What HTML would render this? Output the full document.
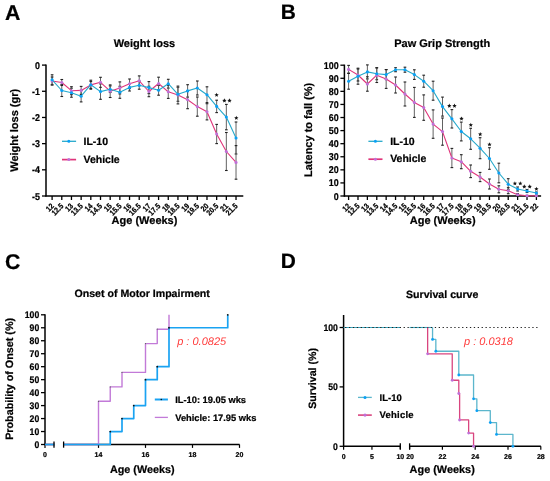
<!DOCTYPE html><html><head><meta charset="utf-8"><style>html,body{margin:0;padding:0;background:#fff;width:550px;height:481px;overflow:hidden}</style></head><body><svg width="550" height="481" viewBox="0 0 550 481" text-rendering="geometricPrecision" style="display:block;filter:blur(0.4px);font-family:'Liberation Sans', sans-serif">
<rect width="550" height="481" fill="#fff"/>
<text x="5.00" y="19.90" font-size="21.3" font-weight="bold" font-style="normal" text-anchor="start" fill="#000" stroke="#000" stroke-width="0.22">A</text>
<text x="280.80" y="18.80" font-size="20.9" font-weight="bold" font-style="normal" text-anchor="start" fill="#000" stroke="#000" stroke-width="0.22">B</text>
<text x="5.00" y="268.80" font-size="21.3" font-weight="bold" font-style="normal" text-anchor="start" fill="#000" stroke="#000" stroke-width="0.22">C</text>
<text x="280.80" y="267.60" font-size="20.9" font-weight="bold" font-style="normal" text-anchor="start" fill="#000" stroke="#000" stroke-width="0.22">D</text>
<text x="144.40" y="46.80" font-size="11" font-weight="bold" font-style="normal" text-anchor="middle" fill="#000" stroke="#000" stroke-width="0.22">Weight loss</text>
<line x1="46.00" y1="64.50" x2="46.00" y2="196.60" stroke="#000" stroke-width="1.5"/>
<line x1="45.40" y1="196.00" x2="243.30" y2="196.00" stroke="#000" stroke-width="1.5"/>
<line x1="42.00" y1="65.10" x2="46.00" y2="65.10" stroke="#000" stroke-width="1.3"/>
<text transform="translate(39.90 68.60) scale(0.9 1)" font-size="9.9" font-weight="bold" font-style="normal" text-anchor="end" fill="#000" stroke="#000" stroke-width="0.22">0</text>
<line x1="42.00" y1="91.28" x2="46.00" y2="91.28" stroke="#000" stroke-width="1.3"/>
<text transform="translate(39.90 94.78) scale(0.9 1)" font-size="9.9" font-weight="bold" font-style="normal" text-anchor="end" fill="#000" stroke="#000" stroke-width="0.22">-1</text>
<line x1="42.00" y1="117.46" x2="46.00" y2="117.46" stroke="#000" stroke-width="1.3"/>
<text transform="translate(39.90 120.96) scale(0.9 1)" font-size="9.9" font-weight="bold" font-style="normal" text-anchor="end" fill="#000" stroke="#000" stroke-width="0.22">-2</text>
<line x1="42.00" y1="143.64" x2="46.00" y2="143.64" stroke="#000" stroke-width="1.3"/>
<text transform="translate(39.90 147.14) scale(0.9 1)" font-size="9.9" font-weight="bold" font-style="normal" text-anchor="end" fill="#000" stroke="#000" stroke-width="0.22">-3</text>
<line x1="42.00" y1="169.82" x2="46.00" y2="169.82" stroke="#000" stroke-width="1.3"/>
<text transform="translate(39.90 173.32) scale(0.9 1)" font-size="9.9" font-weight="bold" font-style="normal" text-anchor="end" fill="#000" stroke="#000" stroke-width="0.22">-4</text>
<line x1="42.00" y1="196.00" x2="46.00" y2="196.00" stroke="#000" stroke-width="1.3"/>
<text transform="translate(39.90 199.50) scale(0.9 1)" font-size="9.9" font-weight="bold" font-style="normal" text-anchor="end" fill="#000" stroke="#000" stroke-width="0.22">-5</text>
<line x1="52.10" y1="196.00" x2="52.10" y2="200.00" stroke="#000" stroke-width="1.3"/>
<text transform="translate(54.40 206.60) rotate(-45) scale(0.88 1)" font-size="7.8" font-weight="bold" font-style="normal" text-anchor="end" fill="#000" stroke="#000" stroke-width="0.22">12</text>
<line x1="61.78" y1="196.00" x2="61.78" y2="200.00" stroke="#000" stroke-width="1.3"/>
<text transform="translate(64.08 206.60) rotate(-45) scale(0.88 1)" font-size="7.8" font-weight="bold" font-style="normal" text-anchor="end" fill="#000" stroke="#000" stroke-width="0.22">12.5</text>
<line x1="71.46" y1="196.00" x2="71.46" y2="200.00" stroke="#000" stroke-width="1.3"/>
<text transform="translate(73.76 206.60) rotate(-45) scale(0.88 1)" font-size="7.8" font-weight="bold" font-style="normal" text-anchor="end" fill="#000" stroke="#000" stroke-width="0.22">13</text>
<line x1="81.14" y1="196.00" x2="81.14" y2="200.00" stroke="#000" stroke-width="1.3"/>
<text transform="translate(83.44 206.60) rotate(-45) scale(0.88 1)" font-size="7.8" font-weight="bold" font-style="normal" text-anchor="end" fill="#000" stroke="#000" stroke-width="0.22">13.5</text>
<line x1="90.82" y1="196.00" x2="90.82" y2="200.00" stroke="#000" stroke-width="1.3"/>
<text transform="translate(93.12 206.60) rotate(-45) scale(0.88 1)" font-size="7.8" font-weight="bold" font-style="normal" text-anchor="end" fill="#000" stroke="#000" stroke-width="0.22">14</text>
<line x1="100.50" y1="196.00" x2="100.50" y2="200.00" stroke="#000" stroke-width="1.3"/>
<text transform="translate(102.80 206.60) rotate(-45) scale(0.88 1)" font-size="7.8" font-weight="bold" font-style="normal" text-anchor="end" fill="#000" stroke="#000" stroke-width="0.22">14.5</text>
<line x1="110.18" y1="196.00" x2="110.18" y2="200.00" stroke="#000" stroke-width="1.3"/>
<text transform="translate(112.48 206.60) rotate(-45) scale(0.88 1)" font-size="7.8" font-weight="bold" font-style="normal" text-anchor="end" fill="#000" stroke="#000" stroke-width="0.22">15</text>
<line x1="119.86" y1="196.00" x2="119.86" y2="200.00" stroke="#000" stroke-width="1.3"/>
<text transform="translate(122.16 206.60) rotate(-45) scale(0.88 1)" font-size="7.8" font-weight="bold" font-style="normal" text-anchor="end" fill="#000" stroke="#000" stroke-width="0.22">15.5</text>
<line x1="129.54" y1="196.00" x2="129.54" y2="200.00" stroke="#000" stroke-width="1.3"/>
<text transform="translate(131.84 206.60) rotate(-45) scale(0.88 1)" font-size="7.8" font-weight="bold" font-style="normal" text-anchor="end" fill="#000" stroke="#000" stroke-width="0.22">16</text>
<line x1="139.22" y1="196.00" x2="139.22" y2="200.00" stroke="#000" stroke-width="1.3"/>
<text transform="translate(141.52 206.60) rotate(-45) scale(0.88 1)" font-size="7.8" font-weight="bold" font-style="normal" text-anchor="end" fill="#000" stroke="#000" stroke-width="0.22">16.5</text>
<line x1="148.90" y1="196.00" x2="148.90" y2="200.00" stroke="#000" stroke-width="1.3"/>
<text transform="translate(151.20 206.60) rotate(-45) scale(0.88 1)" font-size="7.8" font-weight="bold" font-style="normal" text-anchor="end" fill="#000" stroke="#000" stroke-width="0.22">17</text>
<line x1="158.58" y1="196.00" x2="158.58" y2="200.00" stroke="#000" stroke-width="1.3"/>
<text transform="translate(160.88 206.60) rotate(-45) scale(0.88 1)" font-size="7.8" font-weight="bold" font-style="normal" text-anchor="end" fill="#000" stroke="#000" stroke-width="0.22">17.5</text>
<line x1="168.26" y1="196.00" x2="168.26" y2="200.00" stroke="#000" stroke-width="1.3"/>
<text transform="translate(170.56 206.60) rotate(-45) scale(0.88 1)" font-size="7.8" font-weight="bold" font-style="normal" text-anchor="end" fill="#000" stroke="#000" stroke-width="0.22">18</text>
<line x1="177.94" y1="196.00" x2="177.94" y2="200.00" stroke="#000" stroke-width="1.3"/>
<text transform="translate(180.24 206.60) rotate(-45) scale(0.88 1)" font-size="7.8" font-weight="bold" font-style="normal" text-anchor="end" fill="#000" stroke="#000" stroke-width="0.22">18.5</text>
<line x1="187.62" y1="196.00" x2="187.62" y2="200.00" stroke="#000" stroke-width="1.3"/>
<text transform="translate(189.92 206.60) rotate(-45) scale(0.88 1)" font-size="7.8" font-weight="bold" font-style="normal" text-anchor="end" fill="#000" stroke="#000" stroke-width="0.22">19</text>
<line x1="197.30" y1="196.00" x2="197.30" y2="200.00" stroke="#000" stroke-width="1.3"/>
<text transform="translate(199.60 206.60) rotate(-45) scale(0.88 1)" font-size="7.8" font-weight="bold" font-style="normal" text-anchor="end" fill="#000" stroke="#000" stroke-width="0.22">19.5</text>
<line x1="206.98" y1="196.00" x2="206.98" y2="200.00" stroke="#000" stroke-width="1.3"/>
<text transform="translate(209.28 206.60) rotate(-45) scale(0.88 1)" font-size="7.8" font-weight="bold" font-style="normal" text-anchor="end" fill="#000" stroke="#000" stroke-width="0.22">20</text>
<line x1="216.66" y1="196.00" x2="216.66" y2="200.00" stroke="#000" stroke-width="1.3"/>
<text transform="translate(218.96 206.60) rotate(-45) scale(0.88 1)" font-size="7.8" font-weight="bold" font-style="normal" text-anchor="end" fill="#000" stroke="#000" stroke-width="0.22">20.5</text>
<line x1="226.34" y1="196.00" x2="226.34" y2="200.00" stroke="#000" stroke-width="1.3"/>
<text transform="translate(228.64 206.60) rotate(-45) scale(0.88 1)" font-size="7.8" font-weight="bold" font-style="normal" text-anchor="end" fill="#000" stroke="#000" stroke-width="0.22">21</text>
<line x1="236.02" y1="196.00" x2="236.02" y2="200.00" stroke="#000" stroke-width="1.3"/>
<text transform="translate(238.32 206.60) rotate(-45) scale(0.88 1)" font-size="7.8" font-weight="bold" font-style="normal" text-anchor="end" fill="#000" stroke="#000" stroke-width="0.22">21.5</text>
<text x="144.50" y="224.00" font-size="11" font-weight="bold" font-style="normal" text-anchor="middle" fill="#000" stroke="#000" stroke-width="0.22">Age (Weeks)</text>
<text x="18.30" y="130.30" font-size="11" font-weight="bold" font-style="normal" text-anchor="middle" fill="#000" transform="rotate(-90 18.3 130.3)" stroke="#000" stroke-width="0.22">Weight loss (gr)</text>
<line x1="52.10" y1="74.80" x2="52.10" y2="84.80" stroke="#5a5a5a" stroke-width="0.95"/>
<line x1="50.75" y1="74.80" x2="53.45" y2="74.80" stroke="#222" stroke-width="1.1"/>
<line x1="50.75" y1="84.80" x2="53.45" y2="84.80" stroke="#222" stroke-width="1.1"/>
<line x1="52.10" y1="77.00" x2="52.10" y2="85.00" stroke="#5a5a5a" stroke-width="0.95"/>
<line x1="50.75" y1="77.00" x2="53.45" y2="77.00" stroke="#222" stroke-width="1.1"/>
<line x1="50.75" y1="85.00" x2="53.45" y2="85.00" stroke="#222" stroke-width="1.1"/>
<line x1="61.78" y1="84.50" x2="61.78" y2="96.50" stroke="#5a5a5a" stroke-width="0.95"/>
<line x1="60.43" y1="84.50" x2="63.13" y2="84.50" stroke="#222" stroke-width="1.1"/>
<line x1="60.43" y1="96.50" x2="63.13" y2="96.50" stroke="#222" stroke-width="1.1"/>
<line x1="61.78" y1="79.50" x2="61.78" y2="85.50" stroke="#5a5a5a" stroke-width="0.95"/>
<line x1="60.43" y1="79.50" x2="63.13" y2="79.50" stroke="#222" stroke-width="1.1"/>
<line x1="60.43" y1="85.50" x2="63.13" y2="85.50" stroke="#222" stroke-width="1.1"/>
<line x1="71.46" y1="88.20" x2="71.46" y2="97.20" stroke="#5a5a5a" stroke-width="0.95"/>
<line x1="70.11" y1="88.20" x2="72.81" y2="88.20" stroke="#222" stroke-width="1.1"/>
<line x1="70.11" y1="97.20" x2="72.81" y2="97.20" stroke="#222" stroke-width="1.1"/>
<line x1="71.46" y1="86.70" x2="71.46" y2="94.70" stroke="#5a5a5a" stroke-width="0.95"/>
<line x1="70.11" y1="86.70" x2="72.81" y2="86.70" stroke="#222" stroke-width="1.1"/>
<line x1="70.11" y1="94.70" x2="72.81" y2="94.70" stroke="#222" stroke-width="1.1"/>
<line x1="81.14" y1="90.50" x2="81.14" y2="101.90" stroke="#5a5a5a" stroke-width="0.95"/>
<line x1="79.79" y1="90.50" x2="82.49" y2="90.50" stroke="#222" stroke-width="1.1"/>
<line x1="79.79" y1="101.90" x2="82.49" y2="101.90" stroke="#222" stroke-width="1.1"/>
<line x1="81.14" y1="86.40" x2="81.14" y2="94.40" stroke="#5a5a5a" stroke-width="0.95"/>
<line x1="79.79" y1="86.40" x2="82.49" y2="86.40" stroke="#222" stroke-width="1.1"/>
<line x1="79.79" y1="94.40" x2="82.49" y2="94.40" stroke="#222" stroke-width="1.1"/>
<line x1="90.82" y1="80.20" x2="90.82" y2="89.20" stroke="#5a5a5a" stroke-width="0.95"/>
<line x1="89.47" y1="80.20" x2="92.17" y2="80.20" stroke="#222" stroke-width="1.1"/>
<line x1="89.47" y1="89.20" x2="92.17" y2="89.20" stroke="#222" stroke-width="1.1"/>
<line x1="90.82" y1="81.40" x2="90.82" y2="88.40" stroke="#5a5a5a" stroke-width="0.95"/>
<line x1="89.47" y1="81.40" x2="92.17" y2="81.40" stroke="#222" stroke-width="1.1"/>
<line x1="89.47" y1="88.40" x2="92.17" y2="88.40" stroke="#222" stroke-width="1.1"/>
<line x1="100.50" y1="83.90" x2="100.50" y2="99.30" stroke="#5a5a5a" stroke-width="0.95"/>
<line x1="99.15" y1="83.90" x2="101.85" y2="83.90" stroke="#222" stroke-width="1.1"/>
<line x1="99.15" y1="99.30" x2="101.85" y2="99.30" stroke="#222" stroke-width="1.1"/>
<line x1="100.50" y1="77.30" x2="100.50" y2="87.30" stroke="#5a5a5a" stroke-width="0.95"/>
<line x1="99.15" y1="77.30" x2="101.85" y2="77.30" stroke="#222" stroke-width="1.1"/>
<line x1="99.15" y1="87.30" x2="101.85" y2="87.30" stroke="#222" stroke-width="1.1"/>
<line x1="110.18" y1="85.90" x2="110.18" y2="92.50" stroke="#5a5a5a" stroke-width="0.95"/>
<line x1="108.83" y1="85.90" x2="111.53" y2="85.90" stroke="#222" stroke-width="1.1"/>
<line x1="108.83" y1="92.50" x2="111.53" y2="92.50" stroke="#222" stroke-width="1.1"/>
<line x1="110.18" y1="84.90" x2="110.18" y2="97.50" stroke="#5a5a5a" stroke-width="0.95"/>
<line x1="108.83" y1="84.90" x2="111.53" y2="84.90" stroke="#222" stroke-width="1.1"/>
<line x1="108.83" y1="97.50" x2="111.53" y2="97.50" stroke="#222" stroke-width="1.1"/>
<line x1="119.86" y1="86.30" x2="119.86" y2="98.30" stroke="#5a5a5a" stroke-width="0.95"/>
<line x1="118.51" y1="86.30" x2="121.21" y2="86.30" stroke="#222" stroke-width="1.1"/>
<line x1="118.51" y1="98.30" x2="121.21" y2="98.30" stroke="#222" stroke-width="1.1"/>
<line x1="119.86" y1="81.90" x2="119.86" y2="93.90" stroke="#5a5a5a" stroke-width="0.95"/>
<line x1="118.51" y1="81.90" x2="121.21" y2="81.90" stroke="#222" stroke-width="1.1"/>
<line x1="118.51" y1="93.90" x2="121.21" y2="93.90" stroke="#222" stroke-width="1.1"/>
<line x1="129.54" y1="83.80" x2="129.54" y2="91.00" stroke="#5a5a5a" stroke-width="0.95"/>
<line x1="128.19" y1="83.80" x2="130.89" y2="83.80" stroke="#222" stroke-width="1.1"/>
<line x1="128.19" y1="91.00" x2="130.89" y2="91.00" stroke="#222" stroke-width="1.1"/>
<line x1="129.54" y1="79.00" x2="129.54" y2="88.60" stroke="#5a5a5a" stroke-width="0.95"/>
<line x1="128.19" y1="79.00" x2="130.89" y2="79.00" stroke="#222" stroke-width="1.1"/>
<line x1="128.19" y1="88.60" x2="130.89" y2="88.60" stroke="#222" stroke-width="1.1"/>
<line x1="139.22" y1="81.20" x2="139.22" y2="89.20" stroke="#5a5a5a" stroke-width="0.95"/>
<line x1="137.87" y1="81.20" x2="140.57" y2="81.20" stroke="#222" stroke-width="1.1"/>
<line x1="137.87" y1="89.20" x2="140.57" y2="89.20" stroke="#222" stroke-width="1.1"/>
<line x1="139.22" y1="75.90" x2="139.22" y2="85.70" stroke="#5a5a5a" stroke-width="0.95"/>
<line x1="137.87" y1="75.90" x2="140.57" y2="75.90" stroke="#222" stroke-width="1.1"/>
<line x1="137.87" y1="85.70" x2="140.57" y2="85.70" stroke="#222" stroke-width="1.1"/>
<line x1="148.90" y1="81.60" x2="148.90" y2="93.60" stroke="#5a5a5a" stroke-width="0.95"/>
<line x1="147.55" y1="81.60" x2="150.25" y2="81.60" stroke="#222" stroke-width="1.1"/>
<line x1="147.55" y1="93.60" x2="150.25" y2="93.60" stroke="#222" stroke-width="1.1"/>
<line x1="148.90" y1="86.30" x2="148.90" y2="96.70" stroke="#5a5a5a" stroke-width="0.95"/>
<line x1="147.55" y1="86.30" x2="150.25" y2="86.30" stroke="#222" stroke-width="1.1"/>
<line x1="147.55" y1="96.70" x2="150.25" y2="96.70" stroke="#222" stroke-width="1.1"/>
<line x1="158.58" y1="85.40" x2="158.58" y2="95.20" stroke="#5a5a5a" stroke-width="0.95"/>
<line x1="157.23" y1="85.40" x2="159.93" y2="85.40" stroke="#222" stroke-width="1.1"/>
<line x1="157.23" y1="95.20" x2="159.93" y2="95.20" stroke="#222" stroke-width="1.1"/>
<line x1="158.58" y1="77.20" x2="158.58" y2="89.80" stroke="#5a5a5a" stroke-width="0.95"/>
<line x1="157.23" y1="77.20" x2="159.93" y2="77.20" stroke="#222" stroke-width="1.1"/>
<line x1="157.23" y1="89.80" x2="159.93" y2="89.80" stroke="#222" stroke-width="1.1"/>
<line x1="168.26" y1="79.30" x2="168.26" y2="88.10" stroke="#5a5a5a" stroke-width="0.95"/>
<line x1="166.91" y1="79.30" x2="169.61" y2="79.30" stroke="#222" stroke-width="1.1"/>
<line x1="166.91" y1="88.10" x2="169.61" y2="88.10" stroke="#222" stroke-width="1.1"/>
<line x1="168.26" y1="85.20" x2="168.26" y2="98.40" stroke="#5a5a5a" stroke-width="0.95"/>
<line x1="166.91" y1="85.20" x2="169.61" y2="85.20" stroke="#222" stroke-width="1.1"/>
<line x1="166.91" y1="98.40" x2="169.61" y2="98.40" stroke="#222" stroke-width="1.1"/>
<line x1="177.94" y1="87.30" x2="177.94" y2="101.30" stroke="#5a5a5a" stroke-width="0.95"/>
<line x1="176.59" y1="87.30" x2="179.29" y2="87.30" stroke="#222" stroke-width="1.1"/>
<line x1="176.59" y1="101.30" x2="179.29" y2="101.30" stroke="#222" stroke-width="1.1"/>
<line x1="177.94" y1="86.10" x2="177.94" y2="103.90" stroke="#5a5a5a" stroke-width="0.95"/>
<line x1="176.59" y1="86.10" x2="179.29" y2="86.10" stroke="#222" stroke-width="1.1"/>
<line x1="176.59" y1="103.90" x2="179.29" y2="103.90" stroke="#222" stroke-width="1.1"/>
<line x1="187.62" y1="84.70" x2="187.62" y2="97.10" stroke="#5a5a5a" stroke-width="0.95"/>
<line x1="186.27" y1="84.70" x2="188.97" y2="84.70" stroke="#222" stroke-width="1.1"/>
<line x1="186.27" y1="97.10" x2="188.97" y2="97.10" stroke="#222" stroke-width="1.1"/>
<line x1="187.62" y1="90.90" x2="187.62" y2="108.70" stroke="#5a5a5a" stroke-width="0.95"/>
<line x1="186.27" y1="90.90" x2="188.97" y2="90.90" stroke="#222" stroke-width="1.1"/>
<line x1="186.27" y1="108.70" x2="188.97" y2="108.70" stroke="#222" stroke-width="1.1"/>
<line x1="197.30" y1="81.00" x2="197.30" y2="95.00" stroke="#5a5a5a" stroke-width="0.95"/>
<line x1="195.95" y1="81.00" x2="198.65" y2="81.00" stroke="#222" stroke-width="1.1"/>
<line x1="195.95" y1="95.00" x2="198.65" y2="95.00" stroke="#222" stroke-width="1.1"/>
<line x1="197.30" y1="97.00" x2="197.30" y2="116.20" stroke="#5a5a5a" stroke-width="0.95"/>
<line x1="195.95" y1="97.00" x2="198.65" y2="97.00" stroke="#222" stroke-width="1.1"/>
<line x1="195.95" y1="116.20" x2="198.65" y2="116.20" stroke="#222" stroke-width="1.1"/>
<line x1="206.98" y1="86.80" x2="206.98" y2="102.60" stroke="#5a5a5a" stroke-width="0.95"/>
<line x1="205.63" y1="86.80" x2="208.33" y2="86.80" stroke="#222" stroke-width="1.1"/>
<line x1="205.63" y1="102.60" x2="208.33" y2="102.60" stroke="#222" stroke-width="1.1"/>
<line x1="206.98" y1="103.70" x2="206.98" y2="119.90" stroke="#5a5a5a" stroke-width="0.95"/>
<line x1="205.63" y1="103.70" x2="208.33" y2="103.70" stroke="#222" stroke-width="1.1"/>
<line x1="205.63" y1="119.90" x2="208.33" y2="119.90" stroke="#222" stroke-width="1.1"/>
<line x1="216.66" y1="100.20" x2="216.66" y2="112.60" stroke="#5a5a5a" stroke-width="0.95"/>
<line x1="215.31" y1="100.20" x2="218.01" y2="100.20" stroke="#222" stroke-width="1.1"/>
<line x1="215.31" y1="112.60" x2="218.01" y2="112.60" stroke="#222" stroke-width="1.1"/>
<line x1="216.66" y1="124.40" x2="216.66" y2="143.60" stroke="#5a5a5a" stroke-width="0.95"/>
<line x1="215.31" y1="124.40" x2="218.01" y2="124.40" stroke="#222" stroke-width="1.1"/>
<line x1="215.31" y1="143.60" x2="218.01" y2="143.60" stroke="#222" stroke-width="1.1"/>
<line x1="226.34" y1="104.40" x2="226.34" y2="129.80" stroke="#5a5a5a" stroke-width="0.95"/>
<line x1="224.99" y1="104.40" x2="227.69" y2="104.40" stroke="#222" stroke-width="1.1"/>
<line x1="224.99" y1="129.80" x2="227.69" y2="129.80" stroke="#222" stroke-width="1.1"/>
<line x1="226.34" y1="132.50" x2="226.34" y2="170.50" stroke="#5a5a5a" stroke-width="0.95"/>
<line x1="224.99" y1="132.50" x2="227.69" y2="132.50" stroke="#222" stroke-width="1.1"/>
<line x1="224.99" y1="170.50" x2="227.69" y2="170.50" stroke="#222" stroke-width="1.1"/>
<line x1="236.02" y1="122.00" x2="236.02" y2="154.00" stroke="#5a5a5a" stroke-width="0.95"/>
<line x1="234.67" y1="122.00" x2="237.37" y2="122.00" stroke="#222" stroke-width="1.1"/>
<line x1="234.67" y1="154.00" x2="237.37" y2="154.00" stroke="#222" stroke-width="1.1"/>
<line x1="236.02" y1="145.60" x2="236.02" y2="179.20" stroke="#5a5a5a" stroke-width="0.95"/>
<line x1="234.67" y1="145.60" x2="237.37" y2="145.60" stroke="#222" stroke-width="1.1"/>
<line x1="234.67" y1="179.20" x2="237.37" y2="179.20" stroke="#222" stroke-width="1.1"/>
<polyline points="52.10,81.00 61.78,82.50 71.46,90.70 81.14,90.40 90.82,84.90 100.50,82.30 110.18,91.20 119.86,87.90 129.54,83.80 139.22,80.80 148.90,91.50 158.58,83.50 168.26,91.80 177.94,95.00 187.62,99.80 197.30,106.60 206.98,111.80 216.66,134.00 226.34,151.50 236.02,162.40" fill="none" stroke="#e0357a" stroke-width="1.1" stroke-linejoin="round"/>
<circle cx="52.10" cy="81.00" r="1.55" fill="#c070d8"/>
<circle cx="61.78" cy="82.50" r="1.55" fill="#c070d8"/>
<circle cx="71.46" cy="90.70" r="1.55" fill="#c070d8"/>
<circle cx="81.14" cy="90.40" r="1.55" fill="#c070d8"/>
<circle cx="90.82" cy="84.90" r="1.55" fill="#c070d8"/>
<circle cx="100.50" cy="82.30" r="1.55" fill="#c070d8"/>
<circle cx="110.18" cy="91.20" r="1.55" fill="#c070d8"/>
<circle cx="119.86" cy="87.90" r="1.55" fill="#c070d8"/>
<circle cx="129.54" cy="83.80" r="1.55" fill="#c070d8"/>
<circle cx="139.22" cy="80.80" r="1.55" fill="#c070d8"/>
<circle cx="148.90" cy="91.50" r="1.55" fill="#c070d8"/>
<circle cx="158.58" cy="83.50" r="1.55" fill="#c070d8"/>
<circle cx="168.26" cy="91.80" r="1.55" fill="#c070d8"/>
<circle cx="177.94" cy="95.00" r="1.55" fill="#c070d8"/>
<circle cx="187.62" cy="99.80" r="1.55" fill="#c070d8"/>
<circle cx="197.30" cy="106.60" r="1.55" fill="#c070d8"/>
<circle cx="206.98" cy="111.80" r="1.55" fill="#c070d8"/>
<circle cx="216.66" cy="134.00" r="1.55" fill="#c070d8"/>
<circle cx="226.34" cy="151.50" r="1.55" fill="#c070d8"/>
<circle cx="236.02" cy="162.40" r="1.55" fill="#c070d8"/>
<polyline points="52.10,79.80 61.78,90.50 71.46,92.70 81.14,96.20 90.82,84.70 100.50,91.60 110.18,89.20 119.86,92.30 129.54,87.40 139.22,85.20 148.90,87.60 158.58,90.30 168.26,83.70 177.94,94.30 187.62,90.90 197.30,88.00 206.98,94.70 216.66,106.40 226.34,117.10 236.02,138.00" fill="none" stroke="#26a9cb" stroke-width="1.1" stroke-linejoin="round"/>
<circle cx="52.10" cy="79.80" r="1.55" fill="#0aa0f5"/>
<circle cx="61.78" cy="90.50" r="1.55" fill="#0aa0f5"/>
<circle cx="71.46" cy="92.70" r="1.55" fill="#0aa0f5"/>
<circle cx="81.14" cy="96.20" r="1.55" fill="#0aa0f5"/>
<circle cx="90.82" cy="84.70" r="1.55" fill="#0aa0f5"/>
<circle cx="100.50" cy="91.60" r="1.55" fill="#0aa0f5"/>
<circle cx="110.18" cy="89.20" r="1.55" fill="#0aa0f5"/>
<circle cx="119.86" cy="92.30" r="1.55" fill="#0aa0f5"/>
<circle cx="129.54" cy="87.40" r="1.55" fill="#0aa0f5"/>
<circle cx="139.22" cy="85.20" r="1.55" fill="#0aa0f5"/>
<circle cx="148.90" cy="87.60" r="1.55" fill="#0aa0f5"/>
<circle cx="158.58" cy="90.30" r="1.55" fill="#0aa0f5"/>
<circle cx="168.26" cy="83.70" r="1.55" fill="#0aa0f5"/>
<circle cx="177.94" cy="94.30" r="1.55" fill="#0aa0f5"/>
<circle cx="187.62" cy="90.90" r="1.55" fill="#0aa0f5"/>
<circle cx="197.30" cy="88.00" r="1.55" fill="#0aa0f5"/>
<circle cx="206.98" cy="94.70" r="1.55" fill="#0aa0f5"/>
<circle cx="216.66" cy="106.40" r="1.55" fill="#0aa0f5"/>
<circle cx="226.34" cy="117.10" r="1.55" fill="#0aa0f5"/>
<circle cx="236.02" cy="138.00" r="1.55" fill="#0aa0f5"/>
<polygon points="216.60,92.70 217.21,94.16 218.79,94.29 217.58,95.32 217.95,96.86 216.60,96.03 215.25,96.86 215.62,95.32 214.41,94.29 215.99,94.16" fill="#111"/>
<polygon points="224.40,98.30 225.01,99.76 226.59,99.89 225.38,100.92 225.75,102.46 224.40,101.63 223.05,102.46 223.42,100.92 222.21,99.89 223.79,99.76" fill="#111"/>
<polygon points="229.50,98.30 230.11,99.76 231.69,99.89 230.48,100.92 230.85,102.46 229.50,101.63 228.15,102.46 228.52,100.92 227.31,99.89 228.89,99.76" fill="#111"/>
<polygon points="236.30,115.70 236.91,117.16 238.49,117.29 237.28,118.32 237.65,119.86 236.30,119.03 234.95,119.86 235.32,118.32 234.11,117.29 235.69,117.16" fill="#111"/>
<line x1="62.00" y1="141.30" x2="76.10" y2="141.30" stroke="#26a9cb" stroke-width="1.3"/>
<circle cx="68.80" cy="141.30" r="1.5" fill="#0aa0f5"/>
<line x1="62.00" y1="159.60" x2="76.10" y2="159.60" stroke="#e0357a" stroke-width="1.7"/>
<circle cx="68.80" cy="159.60" r="1.5" fill="#c070d8"/>
<text x="83.50" y="144.90" font-size="10.5" font-weight="bold" font-style="normal" text-anchor="start" fill="#000" stroke="#000" stroke-width="0.22">IL-10</text>
<text x="83.50" y="163.10" font-size="10.5" font-weight="bold" font-style="normal" text-anchor="start" fill="#000" stroke="#000" stroke-width="0.22">Vehicle</text>
<text x="442.20" y="47.00" font-size="11" font-weight="bold" font-style="normal" text-anchor="middle" fill="#000" stroke="#000" stroke-width="0.22">Paw Grip Strength</text>
<line x1="344.40" y1="64.60" x2="344.40" y2="196.60" stroke="#000" stroke-width="1.5"/>
<line x1="343.80" y1="196.00" x2="541.10" y2="196.00" stroke="#000" stroke-width="1.5"/>
<line x1="340.40" y1="196.00" x2="344.40" y2="196.00" stroke="#000" stroke-width="1.3"/>
<text transform="translate(338.60 199.50) scale(0.9 1)" font-size="9.9" font-weight="bold" font-style="normal" text-anchor="end" fill="#000" stroke="#000" stroke-width="0.22">0</text>
<line x1="340.40" y1="182.92" x2="344.40" y2="182.92" stroke="#000" stroke-width="1.3"/>
<text transform="translate(338.60 186.42) scale(0.9 1)" font-size="9.9" font-weight="bold" font-style="normal" text-anchor="end" fill="#000" stroke="#000" stroke-width="0.22">10</text>
<line x1="340.40" y1="169.84" x2="344.40" y2="169.84" stroke="#000" stroke-width="1.3"/>
<text transform="translate(338.60 173.34) scale(0.9 1)" font-size="9.9" font-weight="bold" font-style="normal" text-anchor="end" fill="#000" stroke="#000" stroke-width="0.22">20</text>
<line x1="340.40" y1="156.76" x2="344.40" y2="156.76" stroke="#000" stroke-width="1.3"/>
<text transform="translate(338.60 160.26) scale(0.9 1)" font-size="9.9" font-weight="bold" font-style="normal" text-anchor="end" fill="#000" stroke="#000" stroke-width="0.22">30</text>
<line x1="340.40" y1="143.68" x2="344.40" y2="143.68" stroke="#000" stroke-width="1.3"/>
<text transform="translate(338.60 147.18) scale(0.9 1)" font-size="9.9" font-weight="bold" font-style="normal" text-anchor="end" fill="#000" stroke="#000" stroke-width="0.22">40</text>
<line x1="340.40" y1="130.60" x2="344.40" y2="130.60" stroke="#000" stroke-width="1.3"/>
<text transform="translate(338.60 134.10) scale(0.9 1)" font-size="9.9" font-weight="bold" font-style="normal" text-anchor="end" fill="#000" stroke="#000" stroke-width="0.22">50</text>
<line x1="340.40" y1="117.52" x2="344.40" y2="117.52" stroke="#000" stroke-width="1.3"/>
<text transform="translate(338.60 121.02) scale(0.9 1)" font-size="9.9" font-weight="bold" font-style="normal" text-anchor="end" fill="#000" stroke="#000" stroke-width="0.22">60</text>
<line x1="340.40" y1="104.44" x2="344.40" y2="104.44" stroke="#000" stroke-width="1.3"/>
<text transform="translate(338.60 107.94) scale(0.9 1)" font-size="9.9" font-weight="bold" font-style="normal" text-anchor="end" fill="#000" stroke="#000" stroke-width="0.22">70</text>
<line x1="340.40" y1="91.36" x2="344.40" y2="91.36" stroke="#000" stroke-width="1.3"/>
<text transform="translate(338.60 94.86) scale(0.9 1)" font-size="9.9" font-weight="bold" font-style="normal" text-anchor="end" fill="#000" stroke="#000" stroke-width="0.22">80</text>
<line x1="340.40" y1="78.28" x2="344.40" y2="78.28" stroke="#000" stroke-width="1.3"/>
<text transform="translate(338.60 81.78) scale(0.9 1)" font-size="9.9" font-weight="bold" font-style="normal" text-anchor="end" fill="#000" stroke="#000" stroke-width="0.22">90</text>
<line x1="340.40" y1="65.20" x2="344.40" y2="65.20" stroke="#000" stroke-width="1.3"/>
<text transform="translate(338.60 68.70) scale(0.9 1)" font-size="9.9" font-weight="bold" font-style="normal" text-anchor="end" fill="#000" stroke="#000" stroke-width="0.22">100</text>
<line x1="348.60" y1="196.00" x2="348.60" y2="200.00" stroke="#000" stroke-width="1.3"/>
<text transform="translate(350.90 206.60) rotate(-45) scale(0.88 1)" font-size="7.8" font-weight="bold" font-style="normal" text-anchor="end" fill="#000" stroke="#000" stroke-width="0.22">12</text>
<line x1="357.99" y1="196.00" x2="357.99" y2="200.00" stroke="#000" stroke-width="1.3"/>
<text transform="translate(360.29 206.60) rotate(-45) scale(0.88 1)" font-size="7.8" font-weight="bold" font-style="normal" text-anchor="end" fill="#000" stroke="#000" stroke-width="0.22">12.5</text>
<line x1="367.38" y1="196.00" x2="367.38" y2="200.00" stroke="#000" stroke-width="1.3"/>
<text transform="translate(369.68 206.60) rotate(-45) scale(0.88 1)" font-size="7.8" font-weight="bold" font-style="normal" text-anchor="end" fill="#000" stroke="#000" stroke-width="0.22">13</text>
<line x1="376.77" y1="196.00" x2="376.77" y2="200.00" stroke="#000" stroke-width="1.3"/>
<text transform="translate(379.07 206.60) rotate(-45) scale(0.88 1)" font-size="7.8" font-weight="bold" font-style="normal" text-anchor="end" fill="#000" stroke="#000" stroke-width="0.22">13.5</text>
<line x1="386.16" y1="196.00" x2="386.16" y2="200.00" stroke="#000" stroke-width="1.3"/>
<text transform="translate(388.46 206.60) rotate(-45) scale(0.88 1)" font-size="7.8" font-weight="bold" font-style="normal" text-anchor="end" fill="#000" stroke="#000" stroke-width="0.22">14</text>
<line x1="395.55" y1="196.00" x2="395.55" y2="200.00" stroke="#000" stroke-width="1.3"/>
<text transform="translate(397.85 206.60) rotate(-45) scale(0.88 1)" font-size="7.8" font-weight="bold" font-style="normal" text-anchor="end" fill="#000" stroke="#000" stroke-width="0.22">14.5</text>
<line x1="404.94" y1="196.00" x2="404.94" y2="200.00" stroke="#000" stroke-width="1.3"/>
<text transform="translate(407.24 206.60) rotate(-45) scale(0.88 1)" font-size="7.8" font-weight="bold" font-style="normal" text-anchor="end" fill="#000" stroke="#000" stroke-width="0.22">15</text>
<line x1="414.33" y1="196.00" x2="414.33" y2="200.00" stroke="#000" stroke-width="1.3"/>
<text transform="translate(416.63 206.60) rotate(-45) scale(0.88 1)" font-size="7.8" font-weight="bold" font-style="normal" text-anchor="end" fill="#000" stroke="#000" stroke-width="0.22">15.5</text>
<line x1="423.72" y1="196.00" x2="423.72" y2="200.00" stroke="#000" stroke-width="1.3"/>
<text transform="translate(426.02 206.60) rotate(-45) scale(0.88 1)" font-size="7.8" font-weight="bold" font-style="normal" text-anchor="end" fill="#000" stroke="#000" stroke-width="0.22">16</text>
<line x1="433.11" y1="196.00" x2="433.11" y2="200.00" stroke="#000" stroke-width="1.3"/>
<text transform="translate(435.41 206.60) rotate(-45) scale(0.88 1)" font-size="7.8" font-weight="bold" font-style="normal" text-anchor="end" fill="#000" stroke="#000" stroke-width="0.22">16.5</text>
<line x1="442.50" y1="196.00" x2="442.50" y2="200.00" stroke="#000" stroke-width="1.3"/>
<text transform="translate(444.80 206.60) rotate(-45) scale(0.88 1)" font-size="7.8" font-weight="bold" font-style="normal" text-anchor="end" fill="#000" stroke="#000" stroke-width="0.22">17</text>
<line x1="451.89" y1="196.00" x2="451.89" y2="200.00" stroke="#000" stroke-width="1.3"/>
<text transform="translate(454.19 206.60) rotate(-45) scale(0.88 1)" font-size="7.8" font-weight="bold" font-style="normal" text-anchor="end" fill="#000" stroke="#000" stroke-width="0.22">17.5</text>
<line x1="461.28" y1="196.00" x2="461.28" y2="200.00" stroke="#000" stroke-width="1.3"/>
<text transform="translate(463.58 206.60) rotate(-45) scale(0.88 1)" font-size="7.8" font-weight="bold" font-style="normal" text-anchor="end" fill="#000" stroke="#000" stroke-width="0.22">18</text>
<line x1="470.67" y1="196.00" x2="470.67" y2="200.00" stroke="#000" stroke-width="1.3"/>
<text transform="translate(472.97 206.60) rotate(-45) scale(0.88 1)" font-size="7.8" font-weight="bold" font-style="normal" text-anchor="end" fill="#000" stroke="#000" stroke-width="0.22">18.5</text>
<line x1="480.06" y1="196.00" x2="480.06" y2="200.00" stroke="#000" stroke-width="1.3"/>
<text transform="translate(482.36 206.60) rotate(-45) scale(0.88 1)" font-size="7.8" font-weight="bold" font-style="normal" text-anchor="end" fill="#000" stroke="#000" stroke-width="0.22">19</text>
<line x1="489.45" y1="196.00" x2="489.45" y2="200.00" stroke="#000" stroke-width="1.3"/>
<text transform="translate(491.75 206.60) rotate(-45) scale(0.88 1)" font-size="7.8" font-weight="bold" font-style="normal" text-anchor="end" fill="#000" stroke="#000" stroke-width="0.22">19.5</text>
<line x1="498.84" y1="196.00" x2="498.84" y2="200.00" stroke="#000" stroke-width="1.3"/>
<text transform="translate(501.14 206.60) rotate(-45) scale(0.88 1)" font-size="7.8" font-weight="bold" font-style="normal" text-anchor="end" fill="#000" stroke="#000" stroke-width="0.22">20</text>
<line x1="508.23" y1="196.00" x2="508.23" y2="200.00" stroke="#000" stroke-width="1.3"/>
<text transform="translate(510.53 206.60) rotate(-45) scale(0.88 1)" font-size="7.8" font-weight="bold" font-style="normal" text-anchor="end" fill="#000" stroke="#000" stroke-width="0.22">20.5</text>
<line x1="517.62" y1="196.00" x2="517.62" y2="200.00" stroke="#000" stroke-width="1.3"/>
<text transform="translate(519.92 206.60) rotate(-45) scale(0.88 1)" font-size="7.8" font-weight="bold" font-style="normal" text-anchor="end" fill="#000" stroke="#000" stroke-width="0.22">21</text>
<line x1="527.01" y1="196.00" x2="527.01" y2="200.00" stroke="#000" stroke-width="1.3"/>
<text transform="translate(529.31 206.60) rotate(-45) scale(0.88 1)" font-size="7.8" font-weight="bold" font-style="normal" text-anchor="end" fill="#000" stroke="#000" stroke-width="0.22">21.5</text>
<line x1="536.40" y1="196.00" x2="536.40" y2="200.00" stroke="#000" stroke-width="1.3"/>
<text transform="translate(538.70 206.60) rotate(-45) scale(0.88 1)" font-size="7.8" font-weight="bold" font-style="normal" text-anchor="end" fill="#000" stroke="#000" stroke-width="0.22">22</text>
<text x="442.70" y="224.00" font-size="11" font-weight="bold" font-style="normal" text-anchor="middle" fill="#000" stroke="#000" stroke-width="0.22">Age (Weeks)</text>
<text x="312.50" y="129.90" font-size="11" font-weight="bold" font-style="normal" text-anchor="middle" fill="#000" transform="rotate(-90 312.5 129.9)" stroke="#000" stroke-width="0.22">Latency to fall (%)</text>
<line x1="348.60" y1="73.20" x2="348.60" y2="89.20" stroke="#5a5a5a" stroke-width="0.95"/>
<line x1="347.25" y1="73.20" x2="349.95" y2="73.20" stroke="#222" stroke-width="1.1"/>
<line x1="347.25" y1="89.20" x2="349.95" y2="89.20" stroke="#222" stroke-width="1.1"/>
<line x1="348.60" y1="65.40" x2="348.60" y2="73.40" stroke="#5a5a5a" stroke-width="0.95"/>
<line x1="347.25" y1="65.40" x2="349.95" y2="65.40" stroke="#222" stroke-width="1.1"/>
<line x1="347.25" y1="73.40" x2="349.95" y2="73.40" stroke="#222" stroke-width="1.1"/>
<line x1="357.99" y1="68.20" x2="357.99" y2="84.20" stroke="#5a5a5a" stroke-width="0.95"/>
<line x1="356.64" y1="68.20" x2="359.34" y2="68.20" stroke="#222" stroke-width="1.1"/>
<line x1="356.64" y1="84.20" x2="359.34" y2="84.20" stroke="#222" stroke-width="1.1"/>
<line x1="357.99" y1="69.00" x2="357.99" y2="81.00" stroke="#5a5a5a" stroke-width="0.95"/>
<line x1="356.64" y1="69.00" x2="359.34" y2="69.00" stroke="#222" stroke-width="1.1"/>
<line x1="356.64" y1="81.00" x2="359.34" y2="81.00" stroke="#222" stroke-width="1.1"/>
<line x1="367.38" y1="64.90" x2="367.38" y2="78.90" stroke="#5a5a5a" stroke-width="0.95"/>
<line x1="366.03" y1="64.90" x2="368.73" y2="64.90" stroke="#222" stroke-width="1.1"/>
<line x1="366.03" y1="78.90" x2="368.73" y2="78.90" stroke="#222" stroke-width="1.1"/>
<line x1="367.38" y1="76.80" x2="367.38" y2="91.20" stroke="#5a5a5a" stroke-width="0.95"/>
<line x1="366.03" y1="76.80" x2="368.73" y2="76.80" stroke="#222" stroke-width="1.1"/>
<line x1="366.03" y1="91.20" x2="368.73" y2="91.20" stroke="#222" stroke-width="1.1"/>
<line x1="376.77" y1="67.70" x2="376.77" y2="79.70" stroke="#5a5a5a" stroke-width="0.95"/>
<line x1="375.42" y1="67.70" x2="378.12" y2="67.70" stroke="#222" stroke-width="1.1"/>
<line x1="375.42" y1="79.70" x2="378.12" y2="79.70" stroke="#222" stroke-width="1.1"/>
<line x1="376.77" y1="67.90" x2="376.77" y2="82.50" stroke="#5a5a5a" stroke-width="0.95"/>
<line x1="375.42" y1="67.90" x2="378.12" y2="67.90" stroke="#222" stroke-width="1.1"/>
<line x1="375.42" y1="82.50" x2="378.12" y2="82.50" stroke="#222" stroke-width="1.1"/>
<line x1="386.16" y1="69.60" x2="386.16" y2="79.60" stroke="#5a5a5a" stroke-width="0.95"/>
<line x1="384.81" y1="69.60" x2="387.51" y2="69.60" stroke="#222" stroke-width="1.1"/>
<line x1="384.81" y1="79.60" x2="387.51" y2="79.60" stroke="#222" stroke-width="1.1"/>
<line x1="386.16" y1="69.60" x2="386.16" y2="88.40" stroke="#5a5a5a" stroke-width="0.95"/>
<line x1="384.81" y1="69.60" x2="387.51" y2="69.60" stroke="#222" stroke-width="1.1"/>
<line x1="384.81" y1="88.40" x2="387.51" y2="88.40" stroke="#222" stroke-width="1.1"/>
<line x1="395.55" y1="67.70" x2="395.55" y2="71.70" stroke="#5a5a5a" stroke-width="0.95"/>
<line x1="394.20" y1="67.70" x2="396.90" y2="67.70" stroke="#222" stroke-width="1.1"/>
<line x1="394.20" y1="71.70" x2="396.90" y2="71.70" stroke="#222" stroke-width="1.1"/>
<line x1="395.55" y1="77.00" x2="395.55" y2="93.00" stroke="#5a5a5a" stroke-width="0.95"/>
<line x1="394.20" y1="77.00" x2="396.90" y2="77.00" stroke="#222" stroke-width="1.1"/>
<line x1="394.20" y1="93.00" x2="396.90" y2="93.00" stroke="#222" stroke-width="1.1"/>
<line x1="404.94" y1="67.20" x2="404.94" y2="72.20" stroke="#5a5a5a" stroke-width="0.95"/>
<line x1="403.59" y1="67.20" x2="406.29" y2="67.20" stroke="#222" stroke-width="1.1"/>
<line x1="403.59" y1="72.20" x2="406.29" y2="72.20" stroke="#222" stroke-width="1.1"/>
<line x1="404.94" y1="82.00" x2="404.94" y2="106.00" stroke="#5a5a5a" stroke-width="0.95"/>
<line x1="403.59" y1="82.00" x2="406.29" y2="82.00" stroke="#222" stroke-width="1.1"/>
<line x1="403.59" y1="106.00" x2="406.29" y2="106.00" stroke="#222" stroke-width="1.1"/>
<line x1="414.33" y1="69.80" x2="414.33" y2="79.40" stroke="#5a5a5a" stroke-width="0.95"/>
<line x1="412.98" y1="69.80" x2="415.68" y2="69.80" stroke="#222" stroke-width="1.1"/>
<line x1="412.98" y1="79.40" x2="415.68" y2="79.40" stroke="#222" stroke-width="1.1"/>
<line x1="414.33" y1="87.40" x2="414.33" y2="117.40" stroke="#5a5a5a" stroke-width="0.95"/>
<line x1="412.98" y1="87.40" x2="415.68" y2="87.40" stroke="#222" stroke-width="1.1"/>
<line x1="412.98" y1="117.40" x2="415.68" y2="117.40" stroke="#222" stroke-width="1.1"/>
<line x1="423.72" y1="75.20" x2="423.72" y2="87.20" stroke="#5a5a5a" stroke-width="0.95"/>
<line x1="422.37" y1="75.20" x2="425.07" y2="75.20" stroke="#222" stroke-width="1.1"/>
<line x1="422.37" y1="87.20" x2="425.07" y2="87.20" stroke="#222" stroke-width="1.1"/>
<line x1="423.72" y1="94.90" x2="423.72" y2="120.30" stroke="#5a5a5a" stroke-width="0.95"/>
<line x1="422.37" y1="94.90" x2="425.07" y2="94.90" stroke="#222" stroke-width="1.1"/>
<line x1="422.37" y1="120.30" x2="425.07" y2="120.30" stroke="#222" stroke-width="1.1"/>
<line x1="433.11" y1="81.20" x2="433.11" y2="100.20" stroke="#5a5a5a" stroke-width="0.95"/>
<line x1="431.76" y1="81.20" x2="434.46" y2="81.20" stroke="#222" stroke-width="1.1"/>
<line x1="431.76" y1="100.20" x2="434.46" y2="100.20" stroke="#222" stroke-width="1.1"/>
<line x1="433.11" y1="109.90" x2="433.11" y2="138.30" stroke="#5a5a5a" stroke-width="0.95"/>
<line x1="431.76" y1="109.90" x2="434.46" y2="109.90" stroke="#222" stroke-width="1.1"/>
<line x1="431.76" y1="138.30" x2="434.46" y2="138.30" stroke="#222" stroke-width="1.1"/>
<line x1="442.50" y1="97.10" x2="442.50" y2="116.10" stroke="#5a5a5a" stroke-width="0.95"/>
<line x1="441.15" y1="97.10" x2="443.85" y2="97.10" stroke="#222" stroke-width="1.1"/>
<line x1="441.15" y1="116.10" x2="443.85" y2="116.10" stroke="#222" stroke-width="1.1"/>
<line x1="442.50" y1="118.00" x2="442.50" y2="145.20" stroke="#5a5a5a" stroke-width="0.95"/>
<line x1="441.15" y1="118.00" x2="443.85" y2="118.00" stroke="#222" stroke-width="1.1"/>
<line x1="441.15" y1="145.20" x2="443.85" y2="145.20" stroke="#222" stroke-width="1.1"/>
<line x1="451.89" y1="109.60" x2="451.89" y2="128.00" stroke="#5a5a5a" stroke-width="0.95"/>
<line x1="450.54" y1="109.60" x2="453.24" y2="109.60" stroke="#222" stroke-width="1.1"/>
<line x1="450.54" y1="128.00" x2="453.24" y2="128.00" stroke="#222" stroke-width="1.1"/>
<line x1="451.89" y1="148.40" x2="451.89" y2="167.60" stroke="#5a5a5a" stroke-width="0.95"/>
<line x1="450.54" y1="148.40" x2="453.24" y2="148.40" stroke="#222" stroke-width="1.1"/>
<line x1="450.54" y1="167.60" x2="453.24" y2="167.60" stroke="#222" stroke-width="1.1"/>
<line x1="461.28" y1="122.10" x2="461.28" y2="140.90" stroke="#5a5a5a" stroke-width="0.95"/>
<line x1="459.93" y1="122.10" x2="462.63" y2="122.10" stroke="#222" stroke-width="1.1"/>
<line x1="459.93" y1="140.90" x2="462.63" y2="140.90" stroke="#222" stroke-width="1.1"/>
<line x1="461.28" y1="154.70" x2="461.28" y2="168.70" stroke="#5a5a5a" stroke-width="0.95"/>
<line x1="459.93" y1="154.70" x2="462.63" y2="154.70" stroke="#222" stroke-width="1.1"/>
<line x1="459.93" y1="168.70" x2="462.63" y2="168.70" stroke="#222" stroke-width="1.1"/>
<line x1="470.67" y1="128.30" x2="470.67" y2="149.30" stroke="#5a5a5a" stroke-width="0.95"/>
<line x1="469.32" y1="128.30" x2="472.02" y2="128.30" stroke="#222" stroke-width="1.1"/>
<line x1="469.32" y1="149.30" x2="472.02" y2="149.30" stroke="#222" stroke-width="1.1"/>
<line x1="470.67" y1="165.00" x2="470.67" y2="177.60" stroke="#5a5a5a" stroke-width="0.95"/>
<line x1="469.32" y1="165.00" x2="472.02" y2="165.00" stroke="#222" stroke-width="1.1"/>
<line x1="469.32" y1="177.60" x2="472.02" y2="177.60" stroke="#222" stroke-width="1.1"/>
<line x1="480.06" y1="137.70" x2="480.06" y2="158.70" stroke="#5a5a5a" stroke-width="0.95"/>
<line x1="478.71" y1="137.70" x2="481.41" y2="137.70" stroke="#222" stroke-width="1.1"/>
<line x1="478.71" y1="158.70" x2="481.41" y2="158.70" stroke="#222" stroke-width="1.1"/>
<line x1="480.06" y1="172.40" x2="480.06" y2="181.60" stroke="#5a5a5a" stroke-width="0.95"/>
<line x1="478.71" y1="172.40" x2="481.41" y2="172.40" stroke="#222" stroke-width="1.1"/>
<line x1="478.71" y1="181.60" x2="481.41" y2="181.60" stroke="#222" stroke-width="1.1"/>
<line x1="489.45" y1="147.70" x2="489.45" y2="169.30" stroke="#5a5a5a" stroke-width="0.95"/>
<line x1="488.10" y1="147.70" x2="490.80" y2="147.70" stroke="#222" stroke-width="1.1"/>
<line x1="488.10" y1="169.30" x2="490.80" y2="169.30" stroke="#222" stroke-width="1.1"/>
<line x1="489.45" y1="179.00" x2="489.45" y2="189.00" stroke="#5a5a5a" stroke-width="0.95"/>
<line x1="488.10" y1="179.00" x2="490.80" y2="179.00" stroke="#222" stroke-width="1.1"/>
<line x1="488.10" y1="189.00" x2="490.80" y2="189.00" stroke="#222" stroke-width="1.1"/>
<line x1="498.84" y1="163.20" x2="498.84" y2="182.80" stroke="#5a5a5a" stroke-width="0.95"/>
<line x1="497.49" y1="163.20" x2="500.19" y2="163.20" stroke="#222" stroke-width="1.1"/>
<line x1="497.49" y1="182.80" x2="500.19" y2="182.80" stroke="#222" stroke-width="1.1"/>
<line x1="498.84" y1="185.80" x2="498.84" y2="192.80" stroke="#5a5a5a" stroke-width="0.95"/>
<line x1="497.49" y1="185.80" x2="500.19" y2="185.80" stroke="#222" stroke-width="1.1"/>
<line x1="497.49" y1="192.80" x2="500.19" y2="192.80" stroke="#222" stroke-width="1.1"/>
<line x1="508.23" y1="178.70" x2="508.23" y2="189.70" stroke="#5a5a5a" stroke-width="0.95"/>
<line x1="506.88" y1="178.70" x2="509.58" y2="178.70" stroke="#222" stroke-width="1.1"/>
<line x1="506.88" y1="189.70" x2="509.58" y2="189.70" stroke="#222" stroke-width="1.1"/>
<line x1="508.23" y1="187.70" x2="508.23" y2="193.70" stroke="#5a5a5a" stroke-width="0.95"/>
<line x1="506.88" y1="187.70" x2="509.58" y2="187.70" stroke="#222" stroke-width="1.1"/>
<line x1="506.88" y1="193.70" x2="509.58" y2="193.70" stroke="#222" stroke-width="1.1"/>
<line x1="517.62" y1="187.00" x2="517.62" y2="191.00" stroke="#5a5a5a" stroke-width="0.95"/>
<line x1="516.27" y1="187.00" x2="518.97" y2="187.00" stroke="#222" stroke-width="1.1"/>
<line x1="516.27" y1="191.00" x2="518.97" y2="191.00" stroke="#222" stroke-width="1.1"/>
<line x1="517.62" y1="193.70" x2="517.62" y2="195.70" stroke="#5a5a5a" stroke-width="0.95"/>
<line x1="516.27" y1="193.70" x2="518.97" y2="193.70" stroke="#222" stroke-width="1.1"/>
<line x1="516.27" y1="195.70" x2="518.97" y2="195.70" stroke="#222" stroke-width="1.1"/>
<line x1="527.01" y1="189.50" x2="527.01" y2="192.50" stroke="#5a5a5a" stroke-width="0.95"/>
<line x1="525.66" y1="189.50" x2="528.36" y2="189.50" stroke="#222" stroke-width="1.1"/>
<line x1="525.66" y1="192.50" x2="528.36" y2="192.50" stroke="#222" stroke-width="1.1"/>
<line x1="527.01" y1="195.30" x2="527.01" y2="196.30" stroke="#5a5a5a" stroke-width="0.95"/>
<line x1="525.66" y1="195.30" x2="528.36" y2="195.30" stroke="#222" stroke-width="1.1"/>
<line x1="525.66" y1="196.30" x2="528.36" y2="196.30" stroke="#222" stroke-width="1.1"/>
<line x1="536.40" y1="192.00" x2="536.40" y2="194.00" stroke="#5a5a5a" stroke-width="0.95"/>
<line x1="535.05" y1="192.00" x2="537.75" y2="192.00" stroke="#222" stroke-width="1.1"/>
<line x1="535.05" y1="194.00" x2="537.75" y2="194.00" stroke="#222" stroke-width="1.1"/>
<polyline points="348.60,69.40 357.99,75.00 367.38,84.00 376.77,75.20 386.16,79.00 395.55,85.00 404.94,94.00 414.33,102.40 423.72,107.60 433.11,124.10 442.50,131.60 451.89,158.00 461.28,161.70 470.67,171.30 480.06,177.00 489.45,184.00 498.84,189.30 508.23,190.70 517.62,194.70 527.01,195.80 536.40,195.80" fill="none" stroke="#e0357a" stroke-width="1.1" stroke-linejoin="round"/>
<circle cx="348.60" cy="69.40" r="1.55" fill="#c070d8"/>
<circle cx="357.99" cy="75.00" r="1.55" fill="#c070d8"/>
<circle cx="367.38" cy="84.00" r="1.55" fill="#c070d8"/>
<circle cx="376.77" cy="75.20" r="1.55" fill="#c070d8"/>
<circle cx="386.16" cy="79.00" r="1.55" fill="#c070d8"/>
<circle cx="395.55" cy="85.00" r="1.55" fill="#c070d8"/>
<circle cx="404.94" cy="94.00" r="1.55" fill="#c070d8"/>
<circle cx="414.33" cy="102.40" r="1.55" fill="#c070d8"/>
<circle cx="423.72" cy="107.60" r="1.55" fill="#c070d8"/>
<circle cx="433.11" cy="124.10" r="1.55" fill="#c070d8"/>
<circle cx="442.50" cy="131.60" r="1.55" fill="#c070d8"/>
<circle cx="451.89" cy="158.00" r="1.55" fill="#c070d8"/>
<circle cx="461.28" cy="161.70" r="1.55" fill="#c070d8"/>
<circle cx="470.67" cy="171.30" r="1.55" fill="#c070d8"/>
<circle cx="480.06" cy="177.00" r="1.55" fill="#c070d8"/>
<circle cx="489.45" cy="184.00" r="1.55" fill="#c070d8"/>
<circle cx="498.84" cy="189.30" r="1.55" fill="#c070d8"/>
<circle cx="508.23" cy="190.70" r="1.55" fill="#c070d8"/>
<circle cx="517.62" cy="194.70" r="1.55" fill="#c070d8"/>
<circle cx="527.01" cy="195.80" r="1.55" fill="#c070d8"/>
<circle cx="536.40" cy="195.80" r="1.55" fill="#c070d8"/>
<polyline points="348.60,81.20 357.99,76.20 367.38,71.90 376.77,73.70 386.16,74.60 395.55,69.70 404.94,69.70 414.33,74.60 423.72,81.20 433.11,90.70 442.50,106.60 451.89,118.80 461.28,131.50 470.67,138.80 480.06,148.20 489.45,158.50 498.84,173.00 508.23,184.20 517.62,189.00 527.01,191.00 536.40,193.00" fill="none" stroke="#26a9cb" stroke-width="1.1" stroke-linejoin="round"/>
<circle cx="348.60" cy="81.20" r="1.55" fill="#0aa0f5"/>
<circle cx="357.99" cy="76.20" r="1.55" fill="#0aa0f5"/>
<circle cx="367.38" cy="71.90" r="1.55" fill="#0aa0f5"/>
<circle cx="376.77" cy="73.70" r="1.55" fill="#0aa0f5"/>
<circle cx="386.16" cy="74.60" r="1.55" fill="#0aa0f5"/>
<circle cx="395.55" cy="69.70" r="1.55" fill="#0aa0f5"/>
<circle cx="404.94" cy="69.70" r="1.55" fill="#0aa0f5"/>
<circle cx="414.33" cy="74.60" r="1.55" fill="#0aa0f5"/>
<circle cx="423.72" cy="81.20" r="1.55" fill="#0aa0f5"/>
<circle cx="433.11" cy="90.70" r="1.55" fill="#0aa0f5"/>
<circle cx="442.50" cy="106.60" r="1.55" fill="#0aa0f5"/>
<circle cx="451.89" cy="118.80" r="1.55" fill="#0aa0f5"/>
<circle cx="461.28" cy="131.50" r="1.55" fill="#0aa0f5"/>
<circle cx="470.67" cy="138.80" r="1.55" fill="#0aa0f5"/>
<circle cx="480.06" cy="148.20" r="1.55" fill="#0aa0f5"/>
<circle cx="489.45" cy="158.50" r="1.55" fill="#0aa0f5"/>
<circle cx="498.84" cy="173.00" r="1.55" fill="#0aa0f5"/>
<circle cx="508.23" cy="184.20" r="1.55" fill="#0aa0f5"/>
<circle cx="517.62" cy="189.00" r="1.55" fill="#0aa0f5"/>
<circle cx="527.01" cy="191.00" r="1.55" fill="#0aa0f5"/>
<circle cx="536.40" cy="193.00" r="1.55" fill="#0aa0f5"/>
<polygon points="449.30,103.60 449.91,105.06 451.49,105.19 450.28,106.22 450.65,107.76 449.30,106.94 447.95,107.76 448.32,106.22 447.11,105.19 448.69,105.06" fill="#111"/>
<polygon points="454.50,103.60 455.11,105.06 456.69,105.19 455.48,106.22 455.85,107.76 454.50,106.94 453.15,107.76 453.52,106.22 452.31,105.19 453.89,105.06" fill="#111"/>
<polygon points="461.50,116.40 462.11,117.86 463.69,117.99 462.48,119.02 462.85,120.56 461.50,119.73 460.15,120.56 460.52,119.02 459.31,117.99 460.89,117.86" fill="#111"/>
<polygon points="470.80,122.70 471.41,124.16 472.99,124.29 471.78,125.32 472.15,126.86 470.80,126.03 469.45,126.86 469.82,125.32 468.61,124.29 470.19,124.16" fill="#111"/>
<polygon points="480.20,132.00 480.81,133.46 482.39,133.59 481.18,134.62 481.55,136.16 480.20,135.34 478.85,136.16 479.22,134.62 478.01,133.59 479.59,133.46" fill="#111"/>
<polygon points="489.50,142.20 490.11,143.66 491.69,143.79 490.48,144.82 490.85,146.36 489.50,145.53 488.15,146.36 488.52,144.82 487.31,143.79 488.89,143.66" fill="#111"/>
<polygon points="514.90,181.20 515.51,182.66 517.09,182.79 515.88,183.82 516.25,185.36 514.90,184.53 513.55,185.36 513.92,183.82 512.71,182.79 514.29,182.66" fill="#111"/>
<polygon points="520.30,181.20 520.91,182.66 522.49,182.79 521.28,183.82 521.65,185.36 520.30,184.53 518.95,185.36 519.32,183.82 518.11,182.79 519.69,182.66" fill="#111"/>
<polygon points="524.30,184.30 524.91,185.76 526.49,185.89 525.28,186.92 525.65,188.46 524.30,187.63 522.95,188.46 523.32,186.92 522.11,185.89 523.69,185.76" fill="#111"/>
<polygon points="529.70,184.30 530.31,185.76 531.89,185.89 530.68,186.92 531.05,188.46 529.70,187.63 528.35,188.46 528.72,186.92 527.51,185.89 529.09,185.76" fill="#111"/>
<polygon points="536.40,186.70 537.01,188.16 538.59,188.29 537.38,189.32 537.75,190.86 536.40,190.03 535.05,190.86 535.42,189.32 534.21,188.29 535.79,188.16" fill="#111"/>
<line x1="368.40" y1="141.30" x2="382.50" y2="141.30" stroke="#26a9cb" stroke-width="1.3"/>
<circle cx="375.40" cy="141.30" r="1.5" fill="#0aa0f5"/>
<line x1="368.40" y1="159.20" x2="382.50" y2="159.20" stroke="#e0357a" stroke-width="1.7"/>
<circle cx="375.40" cy="159.20" r="1.5" fill="#c070d8"/>
<text x="390.20" y="144.60" font-size="10.5" font-weight="bold" font-style="normal" text-anchor="start" fill="#000" stroke="#000" stroke-width="0.22">IL-10</text>
<text x="390.20" y="162.10" font-size="10.5" font-weight="bold" font-style="normal" text-anchor="start" fill="#000" stroke="#000" stroke-width="0.22">Vehicle</text>
<text x="142.20" y="297.40" font-size="10.6" font-weight="bold" font-style="normal" text-anchor="middle" fill="#000" stroke="#000" stroke-width="0.22">Onset of Motor Impairment</text>
<line x1="45.00" y1="314.20" x2="45.00" y2="445.10" stroke="#000" stroke-width="1.5"/>
<line x1="44.40" y1="444.50" x2="239.60" y2="444.50" stroke="#000" stroke-width="1.5"/>
<line x1="41.00" y1="444.50" x2="45.00" y2="444.50" stroke="#000" stroke-width="1.3"/>
<text transform="translate(39.20 447.90) scale(0.9 1)" font-size="9.6" font-weight="bold" font-style="normal" text-anchor="end" fill="#000" stroke="#000" stroke-width="0.22">0</text>
<line x1="41.00" y1="431.53" x2="45.00" y2="431.53" stroke="#000" stroke-width="1.3"/>
<text transform="translate(39.20 434.93) scale(0.9 1)" font-size="9.6" font-weight="bold" font-style="normal" text-anchor="end" fill="#000" stroke="#000" stroke-width="0.22">10</text>
<line x1="41.00" y1="418.56" x2="45.00" y2="418.56" stroke="#000" stroke-width="1.3"/>
<text transform="translate(39.20 421.96) scale(0.9 1)" font-size="9.6" font-weight="bold" font-style="normal" text-anchor="end" fill="#000" stroke="#000" stroke-width="0.22">20</text>
<line x1="41.00" y1="405.59" x2="45.00" y2="405.59" stroke="#000" stroke-width="1.3"/>
<text transform="translate(39.20 408.99) scale(0.9 1)" font-size="9.6" font-weight="bold" font-style="normal" text-anchor="end" fill="#000" stroke="#000" stroke-width="0.22">30</text>
<line x1="41.00" y1="392.62" x2="45.00" y2="392.62" stroke="#000" stroke-width="1.3"/>
<text transform="translate(39.20 396.02) scale(0.9 1)" font-size="9.6" font-weight="bold" font-style="normal" text-anchor="end" fill="#000" stroke="#000" stroke-width="0.22">40</text>
<line x1="41.00" y1="379.65" x2="45.00" y2="379.65" stroke="#000" stroke-width="1.3"/>
<text transform="translate(39.20 383.05) scale(0.9 1)" font-size="9.6" font-weight="bold" font-style="normal" text-anchor="end" fill="#000" stroke="#000" stroke-width="0.22">50</text>
<line x1="41.00" y1="366.68" x2="45.00" y2="366.68" stroke="#000" stroke-width="1.3"/>
<text transform="translate(39.20 370.08) scale(0.9 1)" font-size="9.6" font-weight="bold" font-style="normal" text-anchor="end" fill="#000" stroke="#000" stroke-width="0.22">60</text>
<line x1="41.00" y1="353.71" x2="45.00" y2="353.71" stroke="#000" stroke-width="1.3"/>
<text transform="translate(39.20 357.11) scale(0.9 1)" font-size="9.6" font-weight="bold" font-style="normal" text-anchor="end" fill="#000" stroke="#000" stroke-width="0.22">70</text>
<line x1="41.00" y1="340.74" x2="45.00" y2="340.74" stroke="#000" stroke-width="1.3"/>
<text transform="translate(39.20 344.14) scale(0.9 1)" font-size="9.6" font-weight="bold" font-style="normal" text-anchor="end" fill="#000" stroke="#000" stroke-width="0.22">80</text>
<line x1="41.00" y1="327.77" x2="45.00" y2="327.77" stroke="#000" stroke-width="1.3"/>
<text transform="translate(39.20 331.17) scale(0.9 1)" font-size="9.6" font-weight="bold" font-style="normal" text-anchor="end" fill="#000" stroke="#000" stroke-width="0.22">90</text>
<line x1="41.00" y1="314.80" x2="45.00" y2="314.80" stroke="#000" stroke-width="1.3"/>
<text transform="translate(39.20 318.20) scale(0.9 1)" font-size="9.6" font-weight="bold" font-style="normal" text-anchor="end" fill="#000" stroke="#000" stroke-width="0.22">100</text>
<line x1="45.00" y1="444.50" x2="45.00" y2="447.90" stroke="#000" stroke-width="1.2"/>
<text x="45.00" y="457.00" font-size="7" font-weight="bold" font-style="normal" text-anchor="middle" fill="#000" stroke="#000" stroke-width="0.22">0</text>
<line x1="98.50" y1="444.50" x2="98.50" y2="447.90" stroke="#000" stroke-width="1.2"/>
<text x="98.50" y="457.00" font-size="7" font-weight="bold" font-style="normal" text-anchor="middle" fill="#000" stroke="#000" stroke-width="0.22">14</text>
<line x1="145.50" y1="444.50" x2="145.50" y2="447.90" stroke="#000" stroke-width="1.2"/>
<text x="145.50" y="457.00" font-size="7" font-weight="bold" font-style="normal" text-anchor="middle" fill="#000" stroke="#000" stroke-width="0.22">16</text>
<line x1="192.50" y1="444.50" x2="192.50" y2="447.90" stroke="#000" stroke-width="1.2"/>
<text x="192.50" y="457.00" font-size="7" font-weight="bold" font-style="normal" text-anchor="middle" fill="#000" stroke="#000" stroke-width="0.22">18</text>
<line x1="239.50" y1="444.50" x2="239.50" y2="447.90" stroke="#000" stroke-width="1.2"/>
<text x="239.50" y="457.00" font-size="7" font-weight="bold" font-style="normal" text-anchor="middle" fill="#000" stroke="#000" stroke-width="0.22">20</text>
<text x="142.20" y="473.00" font-size="10.8" font-weight="bold" font-style="normal" text-anchor="middle" fill="#000" stroke="#000" stroke-width="0.22">Age (Weeks)</text>
<text x="13.10" y="378.90" font-size="10.75" font-weight="bold" font-style="normal" text-anchor="middle" fill="#000" transform="rotate(-90 13.1 378.9)" stroke="#000" stroke-width="0.22">Probability of Onset (%)</text>
<polyline points="45.00,444.50 98.50,444.50 98.50,401.31 110.25,401.31 110.25,386.91 122.00,386.91 122.00,372.39 145.50,372.39 145.50,343.59 157.25,343.59 157.25,329.20 169.00,329.20 169.00,314.80" fill="none" stroke="#c27ad8" stroke-width="1.4" stroke-linejoin="round" stroke-linejoin="miter"/>
<polyline points="45.00,444.50 110.25,444.50 110.25,444.50 110.25,431.53 122.00,431.53 122.00,418.56 133.75,418.56 133.75,405.59 145.50,405.59 145.50,379.65 157.25,379.65 157.25,366.68 169.00,366.68 169.00,327.77 227.75,327.77 227.75,314.80" fill="none" stroke="#1aa3f2" stroke-width="1.7" stroke-linejoin="round" stroke-linejoin="miter"/>
<rect x="54.6" y="441.5" width="8.4" height="6" fill="#fff"/>
<line x1="54.00" y1="441.50" x2="54.00" y2="447.70" stroke="#000" stroke-width="1.3"/>
<line x1="63.60" y1="441.50" x2="63.60" y2="447.70" stroke="#000" stroke-width="1.3"/>
<circle cx="110.25" cy="431.53" r="0.9" fill="#111"/>
<circle cx="122.00" cy="418.56" r="0.9" fill="#111"/>
<circle cx="133.75" cy="405.59" r="0.9" fill="#111"/>
<circle cx="145.50" cy="379.65" r="0.9" fill="#111"/>
<circle cx="157.25" cy="366.68" r="0.9" fill="#111"/>
<circle cx="169.00" cy="327.77" r="0.9" fill="#111"/>
<circle cx="227.75" cy="314.80" r="0.9" fill="#111"/>
<circle cx="98.50" cy="401.31" r="0.6" fill="#5a6a5a"/>
<circle cx="110.25" cy="386.91" r="0.6" fill="#5a6a5a"/>
<circle cx="122.00" cy="372.39" r="0.6" fill="#5a6a5a"/>
<circle cx="145.50" cy="343.59" r="0.6" fill="#5a6a5a"/>
<circle cx="157.25" cy="329.20" r="0.6" fill="#5a6a5a"/>
<text x="177.20" y="344.60" font-size="11" font-weight="normal" font-style="italic" text-anchor="start" fill="#ff3b3b">p : 0.0825</text>
<line x1="154.80" y1="399.50" x2="167.90" y2="399.50" stroke="#1aa3f2" stroke-width="2.0"/>
<circle cx="161.30" cy="399.50" r="0.8" fill="#111"/>
<line x1="154.80" y1="417.40" x2="167.90" y2="417.40" stroke="#c27ad8" stroke-width="1.3"/>
<text x="175.20" y="403.00" font-size="9.3" font-weight="bold" font-style="normal" text-anchor="start" fill="#000" stroke="#000" stroke-width="0.22">IL-10: 19.05 wks</text>
<text x="175.20" y="420.80" font-size="9.3" font-weight="bold" font-style="normal" text-anchor="start" fill="#000" stroke="#000" stroke-width="0.22">Vehicle: 17.95 wks</text>
<text x="442.20" y="297.50" font-size="10.6" font-weight="bold" font-style="normal" text-anchor="middle" fill="#000" stroke="#000" stroke-width="0.22">Survival curve</text>
<line x1="343.60" y1="315.00" x2="343.60" y2="446.90" stroke="#000" stroke-width="1.5"/>
<line x1="339.60" y1="446.30" x2="343.60" y2="446.30" stroke="#000" stroke-width="1.3"/>
<text transform="translate(337.80 449.70) scale(0.9 1)" font-size="9.6" font-weight="bold" font-style="normal" text-anchor="end" fill="#000" stroke="#000" stroke-width="0.22">0</text>
<line x1="339.60" y1="386.90" x2="343.60" y2="386.90" stroke="#000" stroke-width="1.3"/>
<text transform="translate(337.80 390.30) scale(0.9 1)" font-size="9.6" font-weight="bold" font-style="normal" text-anchor="end" fill="#000" stroke="#000" stroke-width="0.22">50</text>
<line x1="339.60" y1="327.50" x2="343.60" y2="327.50" stroke="#000" stroke-width="1.3"/>
<text transform="translate(337.80 330.90) scale(0.9 1)" font-size="9.6" font-weight="bold" font-style="normal" text-anchor="end" fill="#000" stroke="#000" stroke-width="0.22">100</text>
<line x1="343.00" y1="446.30" x2="400.30" y2="446.30" stroke="#000" stroke-width="1.5"/>
<line x1="409.60" y1="446.30" x2="540.90" y2="446.30" stroke="#000" stroke-width="1.5"/>
<line x1="400.30" y1="443.30" x2="400.30" y2="449.30" stroke="#000" stroke-width="1.3"/>
<line x1="409.60" y1="443.30" x2="409.60" y2="449.30" stroke="#000" stroke-width="1.3"/>
<line x1="343.60" y1="446.30" x2="343.60" y2="449.70" stroke="#000" stroke-width="1.2"/>
<line x1="371.95" y1="446.30" x2="371.95" y2="449.70" stroke="#000" stroke-width="1.2"/>
<line x1="400.30" y1="446.30" x2="400.30" y2="449.70" stroke="#000" stroke-width="1.2"/>
<line x1="409.60" y1="446.30" x2="409.60" y2="449.70" stroke="#000" stroke-width="1.2"/>
<line x1="442.40" y1="446.30" x2="442.40" y2="449.70" stroke="#000" stroke-width="1.2"/>
<line x1="475.20" y1="446.30" x2="475.20" y2="449.70" stroke="#000" stroke-width="1.2"/>
<line x1="508.00" y1="446.30" x2="508.00" y2="449.70" stroke="#000" stroke-width="1.2"/>
<line x1="540.80" y1="446.30" x2="540.80" y2="449.70" stroke="#000" stroke-width="1.2"/>
<text x="343.60" y="459.00" font-size="7" font-weight="bold" font-style="normal" text-anchor="middle" fill="#000" stroke="#000" stroke-width="0.22">0</text>
<text x="371.95" y="459.00" font-size="7" font-weight="bold" font-style="normal" text-anchor="middle" fill="#000" stroke="#000" stroke-width="0.22">5</text>
<text x="400.30" y="459.00" font-size="7" font-weight="bold" font-style="normal" text-anchor="middle" fill="#000" stroke="#000" stroke-width="0.22">10</text>
<text x="410.10" y="459.00" font-size="7" font-weight="bold" font-style="normal" text-anchor="middle" fill="#000" stroke="#000" stroke-width="0.22">20</text>
<text x="442.40" y="459.00" font-size="7" font-weight="bold" font-style="normal" text-anchor="middle" fill="#000" stroke="#000" stroke-width="0.22">22</text>
<text x="475.20" y="459.00" font-size="7" font-weight="bold" font-style="normal" text-anchor="middle" fill="#000" stroke="#000" stroke-width="0.22">24</text>
<text x="508.00" y="459.00" font-size="7" font-weight="bold" font-style="normal" text-anchor="middle" fill="#000" stroke="#000" stroke-width="0.22">26</text>
<text x="540.80" y="459.00" font-size="7" font-weight="bold" font-style="normal" text-anchor="middle" fill="#000" stroke="#000" stroke-width="0.22">28</text>
<text x="442.20" y="473.00" font-size="10.9" font-weight="bold" font-style="normal" text-anchor="middle" fill="#000" stroke="#000" stroke-width="0.22">Age (Weeks)</text>
<text x="315.80" y="378.40" font-size="10.6" font-weight="bold" font-style="normal" text-anchor="middle" fill="#000" transform="rotate(-90 315.8 378.4)" stroke="#000" stroke-width="0.22">Survival (%)</text>
<line x1="343.60" y1="327.50" x2="400.30" y2="327.50" stroke="#3aa8c0" stroke-width="1.1"/>
<line x1="409.60" y1="327.50" x2="432.60" y2="327.50" stroke="#3aa8c0" stroke-width="1.1"/>
<line x1="345.1" y1="327.5" x2="538" y2="327.5" stroke="#222" stroke-width="1.2" stroke-dasharray="1.3 2.6"/>
<polyline points="432.56,327.50 432.56,339.38 435.84,339.38 435.84,351.26 458.80,351.26 458.80,375.02 473.56,375.02 473.56,398.78 476.84,398.78 476.84,410.66 490.29,410.66 490.29,422.54 496.52,422.54 496.52,434.42 512.92,434.42 512.92,446.30" fill="none" stroke="#5cb6cc" stroke-width="1.3" stroke-linejoin="round" stroke-linejoin="miter"/>
<polyline points="427.64,327.50 427.64,353.87 452.24,353.87 452.24,380.25 458.80,380.25 458.80,393.55 459.62,393.55 459.62,419.93 468.64,419.93 468.64,433.11 473.56,433.11 473.56,446.30" fill="none" stroke="#d9457f" stroke-width="1.3" stroke-linejoin="round" stroke-linejoin="miter"/>
<circle cx="427.64" cy="353.87" r="1.45" fill="#c070d8"/>
<circle cx="452.24" cy="380.25" r="1.45" fill="#c070d8"/>
<circle cx="458.80" cy="393.55" r="1.45" fill="#c070d8"/>
<circle cx="459.62" cy="419.93" r="1.45" fill="#c070d8"/>
<circle cx="468.64" cy="433.11" r="1.45" fill="#c070d8"/>
<circle cx="473.56" cy="446.30" r="1.45" fill="#c070d8"/>
<circle cx="432.56" cy="339.38" r="1.4" fill="#0aa0f5"/>
<circle cx="435.84" cy="351.26" r="1.4" fill="#0aa0f5"/>
<circle cx="458.80" cy="375.02" r="1.4" fill="#0aa0f5"/>
<circle cx="473.56" cy="398.78" r="1.4" fill="#0aa0f5"/>
<circle cx="476.84" cy="410.66" r="1.4" fill="#0aa0f5"/>
<circle cx="490.29" cy="422.54" r="1.4" fill="#0aa0f5"/>
<circle cx="496.52" cy="434.42" r="1.4" fill="#0aa0f5"/>
<circle cx="512.92" cy="446.30" r="1.4" fill="#0aa0f5"/>
<text x="464.00" y="344.60" font-size="11" font-weight="normal" font-style="italic" text-anchor="start" fill="#ff3b3b">p : 0.0318</text>
<line x1="358.00" y1="397.40" x2="371.80" y2="397.40" stroke="#5cb6cc" stroke-width="1.3"/>
<circle cx="365.00" cy="397.40" r="1.5" fill="#0aa0f5"/>
<line x1="358.00" y1="415.10" x2="371.80" y2="415.10" stroke="#d9457f" stroke-width="1.6"/>
<circle cx="365.00" cy="415.10" r="1.55" fill="#c070d8"/>
<text x="379.60" y="400.80" font-size="9.5" font-weight="bold" font-style="normal" text-anchor="start" fill="#000" stroke="#000" stroke-width="0.22">IL-10</text>
<text x="379.60" y="418.20" font-size="9.5" font-weight="bold" font-style="normal" text-anchor="start" fill="#000" letter-spacing="0.2" stroke="#000" stroke-width="0.22">Vehicle</text>
</svg></body></html>
